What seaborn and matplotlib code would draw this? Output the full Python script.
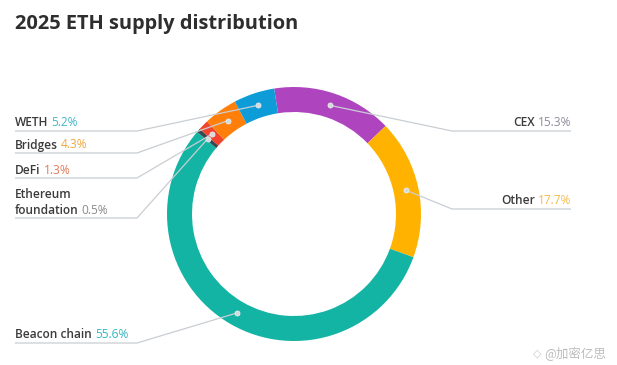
import numpy as np
import matplotlib
matplotlib.use("Agg")
import matplotlib.pyplot as plt
import seaborn as sns

# ---- data ----
categories = ["CEX", "Other", "Beacon chain", "Ethereum\nfoundation", "DeFi", "Bridges", "WETH"]
shares = [15.3, 17.7, 55.6, 0.5, 1.3, 4.3, 5.2]
slice_colors = ["#AE45BF", "#FFB300", "#14B4A4", "#37474F", "#F2442C", "#FF7F0A", "#0E9CD9"]
value_colors = ["#8E8C9C", "#F6BC45", "#2FB7C2", "#8A8A8A", "#E07A5A", "#F0A83A", "#45B5C6"]
title = "2025 ETH supply distribution"
watermark = "@加密亿思"

# ---- layout (pixel space, y from top) ----
W, H = 617, 365
CX, CY, R, RING = 294, 214, 127, 25
START = 99  # degrees, clockwise from here
label_layout = {
    "CEX": ("right", 131),
    "Other": ("right", 209),
    "Beacon chain": ("left", 343),
    "Ethereum\nfoundation": ("left", 218),
    "DeFi": ("left", 178),
    "Bridges": ("left", 153),
    "WETH": ("left", 131),
}

sns.set_theme(style="white")
plt.rcParams["font.family"] = ["Open Sans", "DejaVu Sans"]

fig = plt.figure(figsize=(W / 100, H / 100), dpi=100)
ax = fig.add_axes([0, 0, 1, 1])

def Y(y):
    return H - y

ax.pie(shares, colors=slice_colors, startangle=START, counterclock=False,
       radius=R, center=(CX, Y(CY)),
       wedgeprops=dict(width=RING, edgecolor="none", linewidth=0))
ax.set_xlim(0, W)
ax.set_ylim(0, H)
ax.set_aspect("equal")
ax.axis("off")

line_col = "#C9CED3"
name_col = "#3B3B3B"
fs = 8.6
total = sum(shares)
cum = 0.0
for cat, val, vcol in zip(categories, shares, value_colors):
    mid = cum + val / 2
    cum += val
    ang = np.deg2rad(START - 360 * mid / total)
    rm = R - RING / 2
    dx, dy = CX + rm * np.cos(ang), Y(CY) + rm * np.sin(ang)
    side, ly = label_layout[cat]
    if side == "left":
        ex, x_end = 137, 15
    else:
        ex, x_end = 452, 571
    ax.plot([dx, ex, x_end], [dy, Y(ly), Y(ly)], color=line_col, lw=0.9,
            solid_capstyle="butt", zorder=3)
    ax.plot([dx], [dy], marker="o", ms=3.6, color="#D5DADD", mec="#E8ECEE",
            mew=0.6, zorder=4)
    vtxt = f"{val:.1f}%"
    base_y = Y(ly) + 1.5
    if side == "left":
        lines = cat.split("\n")
        if len(lines) == 2:
            ax.text(x_end, base_y + 15.5, lines[0], fontsize=fs, color=name_col,
                    fontweight="semibold", ha="left", va="bottom")
        nm = ax.text(x_end, base_y, lines[-1], fontsize=fs, color=name_col,
                     fontweight="semibold", ha="left", va="bottom")
        ax.annotate(vtxt, xy=(1, 0), xycoords=nm, xytext=(2.2, 0),
                    textcoords="offset points", fontsize=fs, color=vcol,
                    ha="left", va="bottom")
    else:
        vt = ax.text(x_end, base_y, vtxt, fontsize=fs, color=vcol,
                     ha="right", va="bottom")
        ax.annotate(cat, xy=(0, 0), xycoords=vt, xytext=(-2.2, 0),
                    textcoords="offset points", fontsize=fs, color=name_col,
                    fontweight="semibold", ha="right", va="bottom")

ax.text(15, Y(24), title, fontsize=14.4, fontweight="bold", color="#2E2E2E",
        ha="left", va="center")
ax.text(533, Y(354), "◇", fontsize=8, color="#C8C8C8", ha="left",
        va="center", family=["DejaVu Sans"])
ax.text(544, Y(354), watermark, fontsize=9, color="#BDBDBD", ha="left",
        va="center", family=["Noto Sans CJK SC", "DejaVu Sans"])

fig.savefig("out.png", dpi=100, facecolor="white")
